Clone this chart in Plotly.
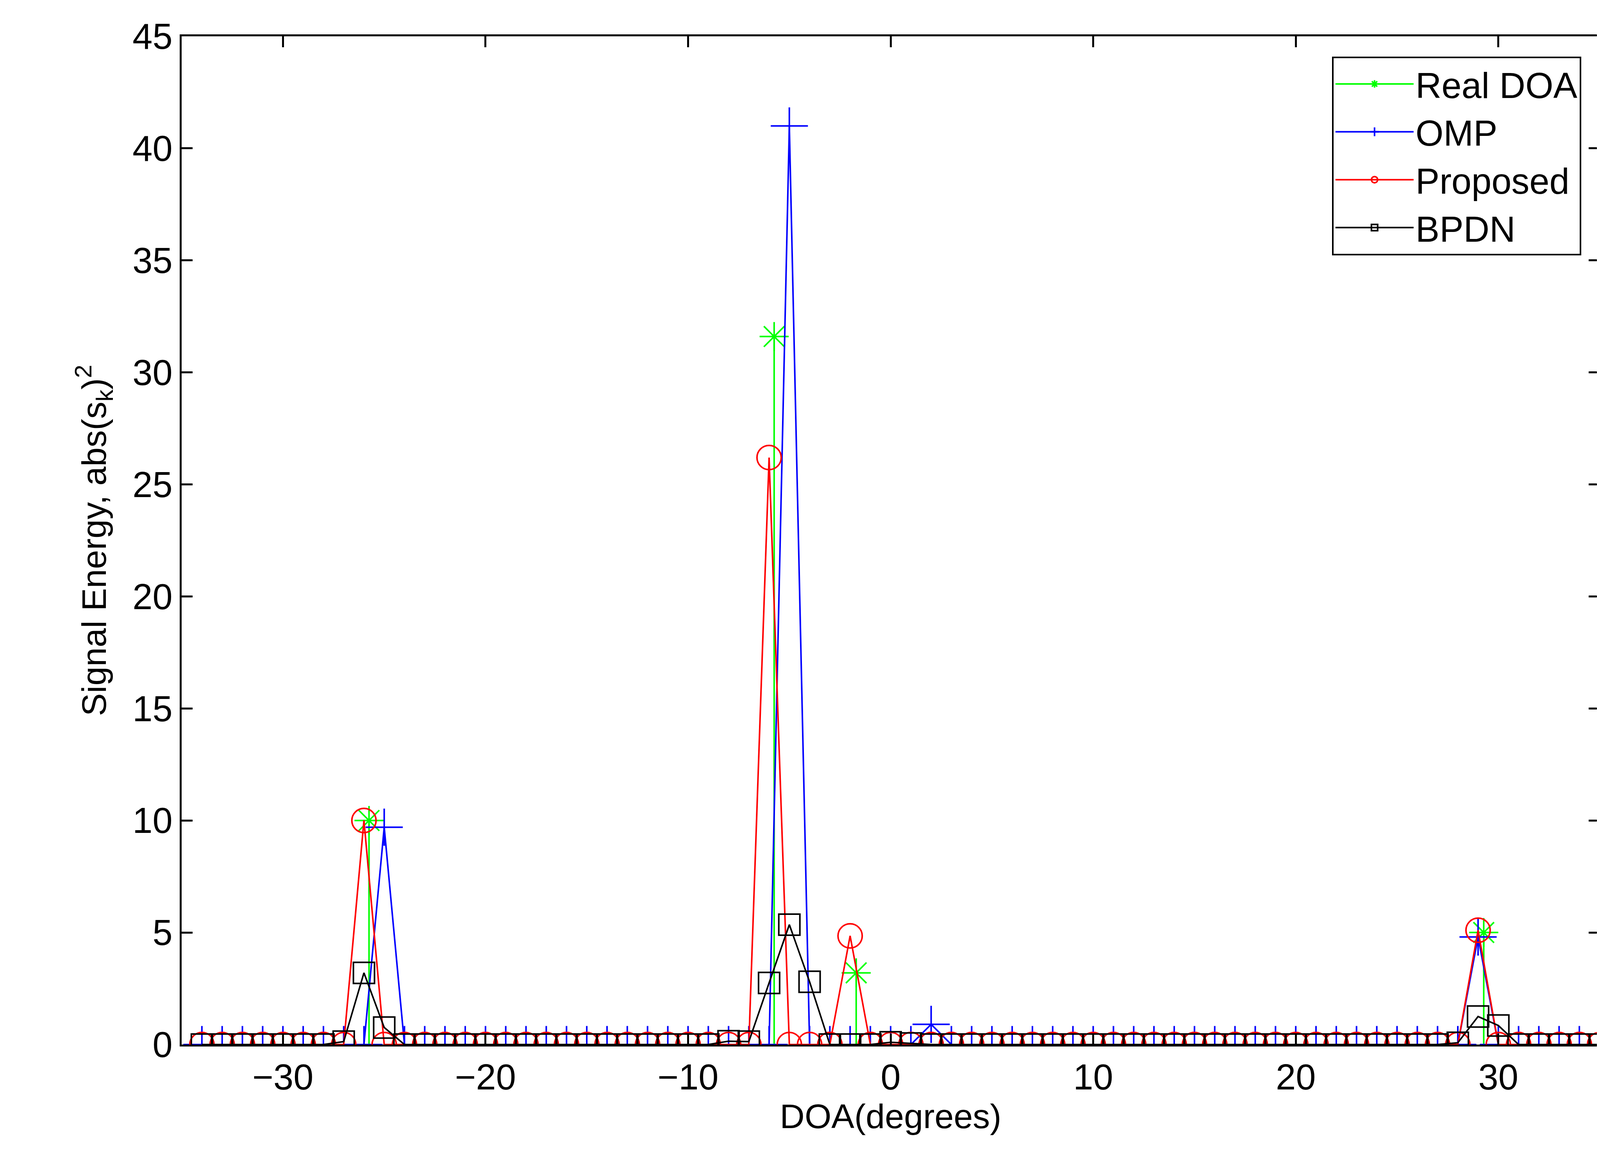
import plotly.graph_objects as go

# DOA grid (degrees)
grid = list(range(-34, 36))

# estimated energies on the grid (non-zero entries only, rest 0)
omp_nz = {-25: 9.7, -5: 41.0, 2: 0.9, 29: 4.8}
prop_nz = {-26: 10.0, -6: 26.2, -2: 4.85, 29: 5.1}
bpdn_nz = {-27: 0.13, -26: 3.2, -25: 0.76, -8: 0.15, -7: 0.13, -6: 2.75,
           -5: 5.35, -4: 2.8, 0: 0.1, 1: 0.05, 28: 0.08, 29: 1.25, 30: 0.85}

omp = [omp_nz.get(g, 0) for g in grid]
proposed = [prop_nz.get(g, 0) for g in grid]
bpdn = [bpdn_nz.get(g, 0) for g in grid]

# true sources
real_doa = [-25.75, -5.75, -1.7, 29.28]
real_val = [10.0, 31.6, 3.2, 5.0]

LW = 4
MS = 62
fig = go.Figure()

# Real DOA as stems
fig.add_trace(go.Scatter(
    x=real_doa, y=real_val, mode='markers', showlegend=False,
    marker=dict(symbol='asterisk-open', size=MS, color='#00ff00', line=dict(width=LW, color='#00ff00')),
    error_y=dict(type='data', symmetric=False, array=[0] * 4, arrayminus=real_val,
                 color='#00ff00', thickness=LW, width=0)))
fig.add_trace(go.Scatter(
    x=[None], y=[None], mode='lines+markers', name='Real DOA',
    line=dict(color='#00ff00', width=LW),
    marker=dict(symbol='asterisk-open', size=MS, color='#00ff00', line=dict(width=LW, color='#00ff00'))))

fig.add_trace(go.Scatter(
    x=grid, y=omp, mode='lines+markers', name='OMP',
    line=dict(color='#0000ff', width=LW),
    marker=dict(symbol='cross-thin-open', size=MS + 6, color='#0000ff', line=dict(width=LW, color='#0000ff'))))
fig.add_trace(go.Scatter(
    x=grid, y=proposed, mode='lines+markers', name='Proposed',
    line=dict(color='#ff0000', width=LW),
    marker=dict(symbol='circle-open', size=MS, color='#ff0000', line=dict(width=LW, color='#ff0000'))))
fig.add_trace(go.Scatter(
    x=grid, y=bpdn, mode='lines+markers', name='BPDN',
    line=dict(color='#000000', width=LW),
    marker=dict(symbol='square-open', size=MS - 8, color='#000000', line=dict(width=LW, color='#000000'))))

axis_common = dict(showgrid=False, zeroline=False, showline=True, mirror='ticks',
                   linecolor='black', linewidth=5, ticks='inside', ticklen=28,
                   tickwidth=5, tickcolor='black',
                   tickfont=dict(family='Liberation Sans, Arial', size=92, color='black'))

fig.update_layout(
    width=4148, height=2963,
    margin=dict(l=457, r=61, t=85, b=296),
    plot_bgcolor='white', paper_bgcolor='white',
    font=dict(family='Liberation Sans, Arial', color='black'),
    xaxis=dict(range=[-35, 35], dtick=10, **axis_common,
               title=dict(text='DOA(degrees)', font=dict(size=88), standoff=5)),
    yaxis=dict(range=[0, 45], dtick=5, **axis_common,
               title=dict(text='Signal Energy, abs(s<sub>k</sub>)<sup>2</sup>', font=dict(size=88), standoff=40)),
    legend=dict(x=0.987, y=0.98, xanchor='right', yanchor='top',
                bgcolor='white', bordercolor='black', borderwidth=4,
                font=dict(size=92, color='black'), itemwidth=200,
                tracegroupgap=0),
)

fig.write_html("out.html")
